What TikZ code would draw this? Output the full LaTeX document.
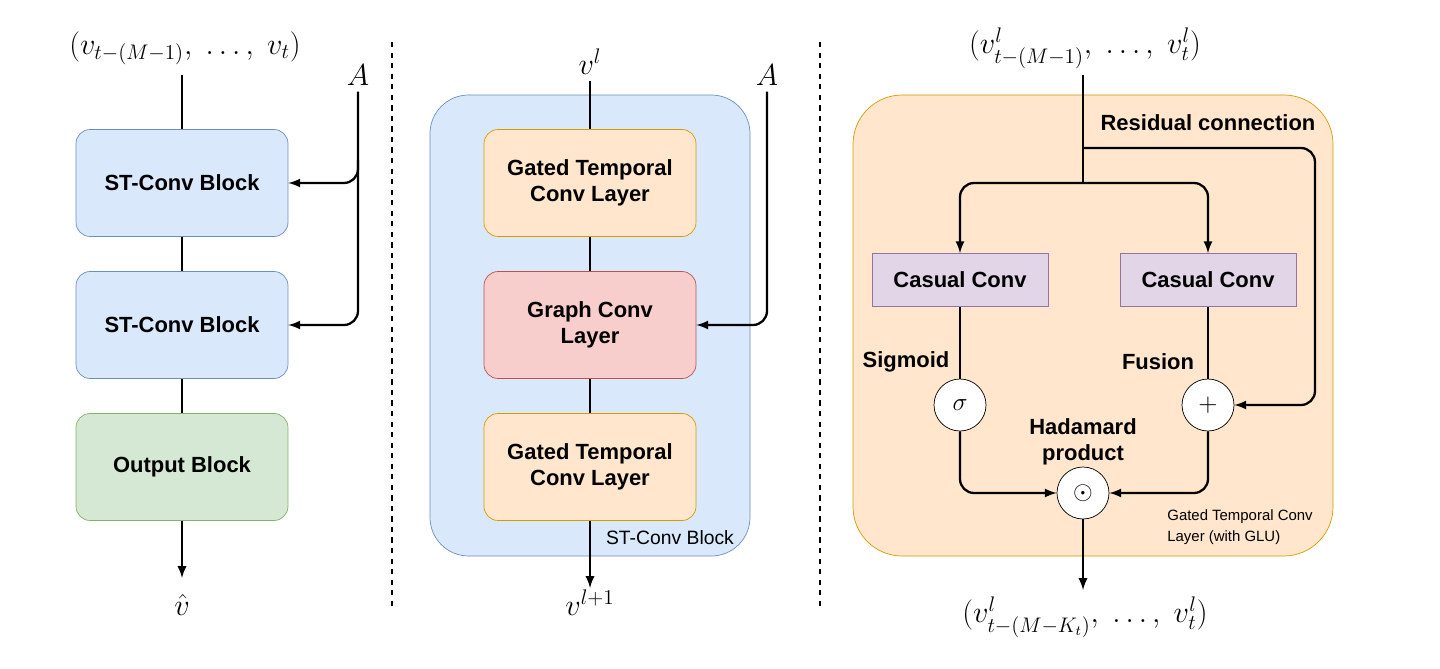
\documentclass[tikz,border=0pt]{standalone}
\usepackage{fontspec}
\setmainfont{Liberation Sans}
\usepackage{amsmath}
\definecolor{bluefill}{HTML}{DAE8FC}
\definecolor{bluedraw}{HTML}{6C8EBF}
\definecolor{greenfill}{HTML}{D5E8D4}
\definecolor{greendraw}{HTML}{82B366}
\definecolor{orangefill}{HTML}{FFE6CC}
\definecolor{orangedraw}{HTML}{D79B00}
\definecolor{redfill}{HTML}{F8CECC}
\definecolor{reddraw}{HTML}{B85450}
\definecolor{purplefill}{HTML}{E1D5E7}
\definecolor{purpledraw}{HTML}{9673A6}
\begin{document}
\begin{tikzpicture}[x=0.02cm,y=-0.02cm,
  box/.style={draw,rounded corners=8pt,minimum width=4.24cm,minimum height=2.14cm,align=center,font=\fontsize{12.5}{15}\selectfont\bfseries},
  casual/.style={draw=purpledraw,fill=purplefill,minimum width=3.52cm,minimum height=1.06cm,font=\fontsize{12.5}{15}\selectfont\bfseries},
  op/.style={draw,circle,fill=white,minimum size=1.04cm,inner sep=0pt,font=\Large},
  lbl/.style={font=\fontsize{12.5}{15}\selectfont\bfseries,align=center},
  math/.style={font=\fontsize{17}{20}\selectfont},
  wire/.style={draw=black,line width=1.3pt,rounded corners=8pt},
  arr/.style={wire,-latex}]

\path[fill=white] (0,0) rectangle (1440,669);

% left column
\node[math] (in1) at (185,48) {$(v_{t-(M-1)},\ \ldots,\ v_t)$};
\node[math] (a1) at (358,75) {$A$};
\node[box,draw=bluedraw,fill=bluefill] (st1) at (182,183) {ST-Conv Block};
\node[box,draw=bluedraw,fill=bluefill] (st2) at (182,325) {ST-Conv Block};
\node[box,draw=greendraw,fill=greenfill] (out) at (182,467) {Output Block};
\node[math] (vhat) at (182,605) {$\hat{v}$};
\coordinate (c1) at (182,75);
\coordinate (c2) at (182,578);

\path[draw=black,line width=1pt] (c1) -- (st1.north);
\path[draw=black,line width=1pt] (st1) -- (st2);
\path[draw=black,line width=1pt] (st2) -- (out);
\path[arr] (out.south) -- (c2);
\path[arr] (a1.south) -- (358,325) -- (st2.east);
\path[arr] (358,160) -- (358,183) -- (st1.east);

% separators
\path[draw=black,dashed,line width=1.5pt] (392,42) -- (392,610);
\path[draw=black,dashed,line width=1.5pt] (820,42) -- (820,610);

% middle column
\path[draw=bluedraw,fill=bluefill,rounded corners=22pt] (430,95) rectangle (750,556);
\node[math] (vl) at (590,62) {$v^l$};
\node[math] (a2) at (767,75) {$A$};
\node[box,draw=orangedraw,fill=orangefill] (gt1) at (590,183) {Gated Temporal\\Conv Layer};
\node[box,draw=reddraw,fill=redfill] (gc) at (590,325) {Graph Conv\\Layer};
\node[box,draw=orangedraw,fill=orangefill] (gt2) at (590,467) {Gated Temporal\\Conv Layer};
\node[font=\fontsize{11}{13}\selectfont] (stlbl) at (670,538) {ST-Conv Block};
\node[math] (vl1) at (590,603) {$v^{l+1}$};
\coordinate (c3) at (590,588);

\path[draw=black,line width=1pt] (vl.south) -- (gt1.north);
\path[draw=black,line width=1pt] (gt1) -- (gc);
\path[draw=black,line width=1pt] (gc) -- (gt2);
\path[arr] (gt2.south) -- (c3);
\path[arr] (a2.south) -- (767,325) -- (gc.east);

% right column
\path[draw=orangedraw,fill=orangefill,rounded corners=28pt] (853,95) rectangle (1333,556);
\node[math] (in3) at (1085,48) {$(v^l_{t-(M-1)},\ \ldots,\ v^l_t)$};
\node[lbl] (res) at (1208,123) {Residual connection};
\node[casual] (cc1) at (960,280) {Casual Conv};
\node[casual] (cc2) at (1208,280) {Casual Conv};
\node[op] (sig) at (960,405) {$\sigma$};
\node[op] (plus) at (1208,405) {$+$};
\node[op] (had) at (1083,493) {$\odot$};
\node[lbl] (siglbl) at (906,362) {Sigmoid};
\node[lbl] (fuslbl) at (1158,362) {Fusion};
\node[lbl] (hadlbl) at (1083,442) {Hadamard\\product};
\node[font=\fontsize{8.5}{12}\selectfont,align=left] (glu) at (1240,527) {Gated Temporal Conv\\Layer (with GLU)};
\node[math] (out3) at (1085,617) {$(v^l_{t-(M-K_t)},\ \ldots,\ v^l_t)$};
\coordinate (c4) at (1083,75);
\coordinate (c5) at (1083,590);

\path[wire] (c4) -- (1083,183);
\path[arr] (1083,183) -- (960,183) -- (cc1.north);
\path[arr] (1083,183) -- (1208,183) -- (cc2.north);
\path[arr] (1083,148) -- (1315,148) -- (1315,405) -- (plus.east);
\path[draw=black,line width=1pt] (cc1) -- (sig);
\path[draw=black,line width=1pt] (cc2) -- (plus);
\path[arr] (sig.south) -- (960,493) -- (had.west);
\path[arr] (plus.south) -- (1208,493) -- (had.east);
\path[arr] (had.south) -- (c5);
\end{tikzpicture}
\end{document}
